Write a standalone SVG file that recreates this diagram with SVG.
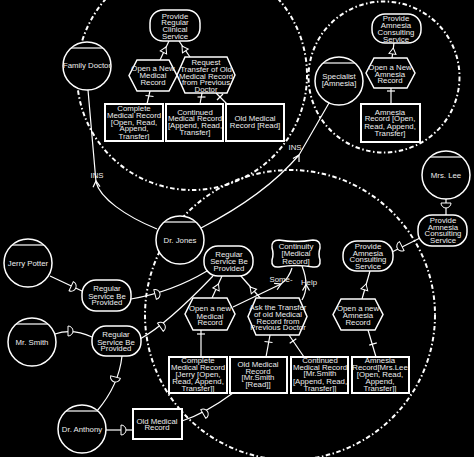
<svg xmlns="http://www.w3.org/2000/svg" xmlns:xlink="http://www.w3.org/1999/xlink" width="474" height="457" viewBox="0 0 474 457">
<style>
.bd{fill:none;stroke:#fff;stroke-width:2;stroke-dasharray:4.5 2.5 1.5 2.5}
.ac{fill:#000;stroke:#fff;stroke-width:1.5}
.nd{fill:#000;stroke:#fff;stroke-width:1.5}
.rs{fill:#000;stroke:#fff;stroke-width:2}
.ln{fill:none;stroke:#fff;stroke-width:1.2}
.tk{stroke:#fff;stroke-width:1.2}
.ah{fill:#000;stroke:#fff;stroke-width:1}
.va{fill:none;stroke:#fff;stroke-width:1.2}
text{font-family:"Liberation Sans",Arial,sans-serif;font-size:7.8px;fill:#eee;text-anchor:middle}
</style>
<defs>
<path id="dep" d="M-2,-5 A5,5 0 0 1 -2,5 Z" class="ah"/>
<path id="me" d="M0,0 L-6,-3.5 L-6,3.5 Z" class="ah"/>
<path id="va" d="M-6,-3.5 L0,0 L-6,3.5" class="va"/>
</defs>
<rect x="0" y="0" width="474" height="457" fill="#000"/>

<g id="boundaries">
<circle class="bd" cx="192" cy="75" r="115"/>
<circle class="bd" cx="384" cy="77" r="75.5"/>
<circle class="bd" cx="290" cy="315" r="145"/>
</g>

<g id="connectors">
<!-- means-end -->
<path class="ln" d="M160,60 L169,41"/>
<use href="#me" transform="translate(166,47) rotate(-64.7)"/>
<path class="ln" d="M190,57 L179,41"/>
<use href="#me" transform="translate(182,46) rotate(-124)"/>
<path class="ln" d="M392,58 L394,43"/>
<use href="#me" transform="translate(393.3,48) rotate(-82)"/>
<path class="ln" d="M212,298 L222,276"/>
<use href="#me" transform="translate(218.5,284) rotate(-65.6)"/>
<path class="ln" d="M262,300 L240,275"/>
<use href="#me" transform="translate(250,287) rotate(-131)"/>
<path class="ln" d="M362,299 L370,271"/>
<use href="#me" transform="translate(366,284) rotate(-74)"/>
<!-- decompositions -->
<path class="ln" d="M150,91 L147,104"/><path class="tk" d="M145.5,95.5 L153.5,96.5"/>
<path class="ln" d="M202,93 L200,104"/><path class="tk" d="M197.5,97 L205.5,97"/>
<path class="ln" d="M216,93 L227,104"/><path class="tk" d="M217,100 L223,94"/>
<path class="ln" d="M391,88 L391,104"/><path class="tk" d="M387,91 L395,91"/>
<path class="ln" d="M201,330 L201,357"/><path class="tk" d="M197,334 L205,334"/>
<path class="ln" d="M270,335 L266,357"/><path class="tk" d="M264.5,341.5 L272.5,342.5"/>
<path class="ln" d="M289,335 L304,357"/><path class="tk" d="M289.7,343.3 L296.3,338.7"/>
<path class="ln" d="M368,330 L376,357"/><path class="tk" d="M369.2,345.1 L376.8,342.9"/>
<!-- contributions -->
<path class="ln" d="M233,307 L281,284 Q289,278 292,268"/>
<use href="#va" transform="translate(281,284) rotate(-25.6)"/>
<text x="281" y="282">Some-</text>
<path class="ln" d="M302,300 Q310,286 302,266"/>
<use href="#va" transform="translate(306,284.5) rotate(-90)"/>
<text x="309" y="285">Help</text>
<!-- INS -->
<path class="ln" d="M157,229 C125,216 100,198 96,182 L88,90"/>
<use href="#va" transform="translate(96,181) rotate(-95)"/>
<text x="97" y="178">INS</text>
<path class="ln" d="M201,228 Q265,195 299,155 L329,103"/>
<use href="#va" transform="translate(299,155) rotate(-60)"/>
<text x="295" y="150">INS</text>
<!-- dependencies -->
<path class="ln" d="M50,276 Q65,283 82,291"/>
<use href="#dep" transform="translate(73,287) rotate(25)"/>
<path class="ln" d="M131,299 Q172,292 207,271"/>
<use href="#dep" transform="translate(157,294) rotate(-15)"/>
<path class="ln" d="M55,334 Q72,328 92,337"/>
<use href="#dep" transform="translate(70,331) rotate(0)"/>
<path class="ln" d="M140,339 C160,328 190,300 213,276"/>
<use href="#dep" transform="translate(162,326) rotate(-35)"/>
<path class="ln" d="M122,356 Q119,385 97,411"/>
<use href="#dep" transform="translate(115,379) rotate(105)"/>
<path class="ln" d="M106,430 L133,430"/>
<use href="#dep" transform="translate(123,430) rotate(0)"/>
<path class="ln" d="M182,421 Q206,413 233,393"/>
<use href="#dep" transform="translate(205,413) rotate(-30)"/>
<path class="ln" d="M446,199 L446,215"/>
<use href="#dep" transform="translate(446,205) rotate(90)"/>
<path class="ln" d="M420,238 L392,252"/>
<use href="#dep" transform="translate(400,247) rotate(153)"/>
</g>

<!-- actors -->
<g id="family-doctor">
<circle class="ac" cx="87" cy="66" r="24"/><path class="tk" d="M71.1,48 L102.9,48"/>
<text x="87" y="68">Family Doctor</text>
</g>
<g id="specialist">
<circle class="ac" cx="339" cy="81" r="24"/><path class="tk" d="M323.1,63 L354.9,63"/>
<text x="339" y="79">Specialist</text><text x="339" y="86.3">[Amnesia]</text>
</g>
<g id="dr-jones">
<circle class="ac" cx="180" cy="240" r="24"/><path class="tk" d="M164.1,222 L195.9,222"/>
<text x="180" y="243">Dr. Jones</text>
</g>
<g id="jerry-potter">
<circle class="ac" cx="28" cy="263" r="24"/><path class="tk" d="M12.1,245 L43.9,245"/>
<text x="28" y="266">Jerry Potter</text>
</g>
<g id="mr-smith">
<circle class="ac" cx="32" cy="342" r="24"/><path class="tk" d="M16.1,324 L47.9,324"/>
<text x="32" y="345">Mr. Smith</text>
</g>
<g id="dr-anthony">
<circle class="ac" cx="82" cy="429" r="24"/><path class="tk" d="M66.1,411 L97.9,411"/>
<text x="82" y="432">Dr. Anthony</text>
</g>
<g id="mrs-lee">
<circle class="ac" cx="446" cy="175" r="24"/><path class="tk" d="M430.1,157 L461.9,157"/>
<text x="446" y="178">Mrs. Lee</text>
</g>

<!-- goals -->
<g id="goal-regular-clinical">
<rect class="nd" x="150" y="10" width="50" height="31" rx="13"/>
<text x="175" y="18.5">Provide</text><text x="175" y="25.3">Regular</text><text x="175" y="32.1">Clinical</text><text x="175" y="38.9">Service</text>
</g>
<g id="goal-amnesia-specialist">
<rect class="nd" x="372" y="14" width="49" height="29" rx="13"/>
<text x="396" y="21.3">Provide</text><text x="396" y="28">Amnesia</text><text x="396" y="34.7">Consulting</text><text x="396" y="41.5">Service</text>
</g>
<g id="goal-jerry">
<rect class="nd" x="82" y="280" width="49" height="31" rx="14"/>
<text x="107" y="291.3">Regular</text><text x="107" y="298.5">Service Be</text><text x="107" y="305.3">Provided</text>
</g>
<g id="goal-jones-regular">
<rect class="nd" x="204" y="246" width="49" height="30" rx="14"/>
<text x="229" y="257">Regular</text><text x="229" y="264">Service Be</text><text x="229" y="270.7">Provided</text>
</g>
<g id="goal-smith">
<rect class="nd" x="92" y="326" width="49" height="30" rx="14"/>
<text x="116" y="337">Regular</text><text x="116" y="344.5">Service Be</text><text x="116" y="351.3">Provided</text>
</g>
<g id="goal-lee">
<rect class="nd" x="418" y="215" width="49" height="31" rx="14"/>
<text x="443" y="223">Provide</text><text x="443" y="229.7">Amnesia</text><text x="443" y="236.3">Consulting</text><text x="443" y="243">Service</text>
</g>
<g id="goal-jones-amnesia">
<rect class="nd" x="343" y="241" width="50" height="30" rx="14"/>
<text x="368" y="249">Provide</text><text x="368" y="255.7">Amnesia</text><text x="368" y="262.3">Consulting</text><text x="368" y="269">Service</text>
</g>

<!-- softgoal -->
<g id="softgoal-continuity">
<path class="nd" d="M279,240 Q296,243 313,240 Q321,240 320,248 Q318,254 320,260 Q321,268 313,267 Q296,264 279,267 Q271,268 272,260 Q274,254 272,248 Q271,240 279,240 Z"/>
<text x="296" y="248.7">Continuity</text><text x="296" y="256.3">[Medical</text><text x="296" y="263.7">Record]</text>
</g>

<!-- tasks -->
<g id="task-open-medical-top">
<polygon class="nd" points="129,75.5 137,60 169,60 177,75.5 169,91 137,91"/>
<text x="153" y="71.3">Open a New</text><text x="153" y="78.2">Medical</text><text x="153" y="85">Record</text>
</g>
<g id="task-request-transfer">
<polygon class="nd" points="177,75 185,57 227,57 235,75 227,93 185,93"/>
<text x="206" y="65.3">Request</text><text x="206" y="72.3">Transfer of Old</text><text x="206" y="79">Medical Record</text><text x="206" y="85.3">from Previous</text><text x="206" y="91.7">Doctor</text>
</g>
<g id="task-open-amnesia-top">
<polygon class="nd" points="366,73 374,58 407,58 415,73 407,88 374,88"/>
<text x="390" y="69.7">Open a New</text><text x="390" y="77">Amnesia</text><text x="390" y="83.3">Record</text>
</g>
<g id="task-open-medical-bottom">
<polygon class="nd" points="185,314 193,298 227,298 235,314 227,330 193,330"/>
<text x="210" y="311.3">Open a new</text><text x="210" y="318.5">Medical</text><text x="210" y="325.3">Record</text>
</g>
<g id="task-ask-transfer">
<polygon class="nd" points="248,316.5 256,298 299,298 307,316.5 299,335 256,335"/>
<text x="278" y="310.3">Ask the Transfer</text><text x="278" y="317">of old Medical</text><text x="278" y="323.7">Record from</text><text x="278" y="330.3">Previous Doctor</text>
</g>
<g id="task-open-amnesia-bottom">
<polygon class="nd" points="333,314.5 341,299 375,299 383,314.5 375,330 341,330"/>
<text x="358" y="311.3">Open a new</text><text x="358" y="318">Amnesia</text><text x="358" y="324.7">Record</text>
</g>

<!-- resources -->
<g id="res-complete-top">
<rect class="rs" x="105" y="104" width="58" height="37"/>
<text x="134" y="110.7">Complete</text><text x="134" y="118">Medical Record</text><text x="134" y="124.7">[Open, Read,</text><text x="134" y="131.3">Append,</text><text x="134" y="139">Transfer]</text>
</g>
<g id="res-continued-top">
<rect class="rs" x="166" y="104" width="57" height="37"/>
<text x="195" y="114.7">Continued</text><text x="195" y="121.3">Medical Record</text><text x="195" y="128">[Append, Read,</text><text x="195" y="134.7">Transfer]</text>
</g>
<g id="res-old-top">
<rect class="rs" x="226" y="104" width="58" height="37"/>
<text x="255" y="121.3">Old Medical</text><text x="255" y="128">Record [Read]</text>
</g>
<g id="res-amnesia-top">
<rect class="rs" x="361" y="104" width="59" height="38"/>
<text x="390" y="114.7">Amnesia</text><text x="390" y="121.3">Record [Open,</text><text x="390" y="128.7">Read, Append,</text><text x="390" y="135.7">Transfer]</text>
</g>
<g id="res-complete-jerry">
<rect class="rs" x="169" y="357" width="58" height="36"/>
<text x="198" y="363">Complete</text><text x="198" y="370.3">Medical Record</text><text x="198" y="377">[Jerry [Open,</text><text x="198" y="384">Read, Append,</text><text x="198" y="391.3">Transfer]]</text>
</g>
<g id="res-old-smith">
<rect class="rs" x="230" y="357" width="57" height="36"/>
<text x="258" y="367.3">Old Medical</text><text x="258" y="373.7">Record</text><text x="258" y="380.3">[Mr.Smith</text><text x="258" y="387.3">[Read]]</text>
</g>
<g id="res-continued-smith">
<rect class="rs" x="291" y="357" width="57" height="36"/>
<text x="320" y="363">Continued</text><text x="320" y="369.7">Medical Record</text><text x="320" y="376.3">[Mr.Smith</text><text x="320" y="383.7">[Append, Read,</text><text x="320" y="390.7">Transfer]]</text>
</g>
<g id="res-amnesia-lee">
<rect class="rs" x="352" y="357" width="57" height="36"/>
<text x="380" y="363">Amnesia</text><text x="380" y="369.5">Record[Mrs.Lee</text><text x="380" y="376.8">[Open, Read,</text><text x="380" y="384">Append,</text><text x="380" y="391">Transfer]]</text>
</g>
<g id="res-old-anthony">
<rect class="rs" x="133" y="409" width="49" height="30"/>
<text x="157" y="423.7">Old Medical</text><text x="157" y="430.3">Record</text>
</g>
</svg>
